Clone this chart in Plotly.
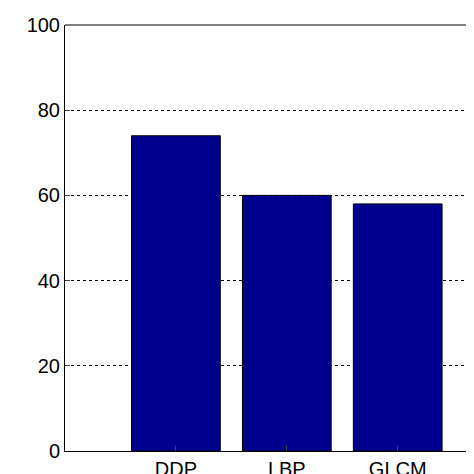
import plotly.graph_objects as go

categories = ["DDP", "LBP", "GLCM"]
values = [74, 60, 58]
positions = [1, 2, 3]
yticks = [0, 20, 40, 60, 80, 100]

fig = go.Figure(go.Bar(
    x=positions, y=values, width=0.8,
    marker=dict(color="#00008f", line=dict(color="black", width=1)),
))
fig.update_layout(
    width=474, height=474, margin=dict(l=57, r=0, t=17, b=31, autoexpand=False),
    plot_bgcolor="white", paper_bgcolor="white", showlegend=False,
    font=dict(family="Liberation Sans, Arial", size=20, color="black"),
)
fig.add_shape(type="line", xref="paper", yref="paper", x0=0, x1=1, y0=1, y1=1,
              line=dict(color="black", width=1))
fig.update_xaxes(range=[0, 3.76], tickvals=positions, ticktext=categories,
                 showline=True, linecolor="black", linewidth=1, automargin=False,
                 ticks="inside", ticklen=5, showgrid=False, zeroline=False)
fig.update_yaxes(range=[0, 100], tickvals=yticks, showline=True, linecolor="black",
                 linewidth=1, ticks="inside", ticklen=5, showgrid=True, automargin=False,
                 gridcolor="black", griddash="dot", gridwidth=1, zeroline=False)
fig.write_html("out.html")
